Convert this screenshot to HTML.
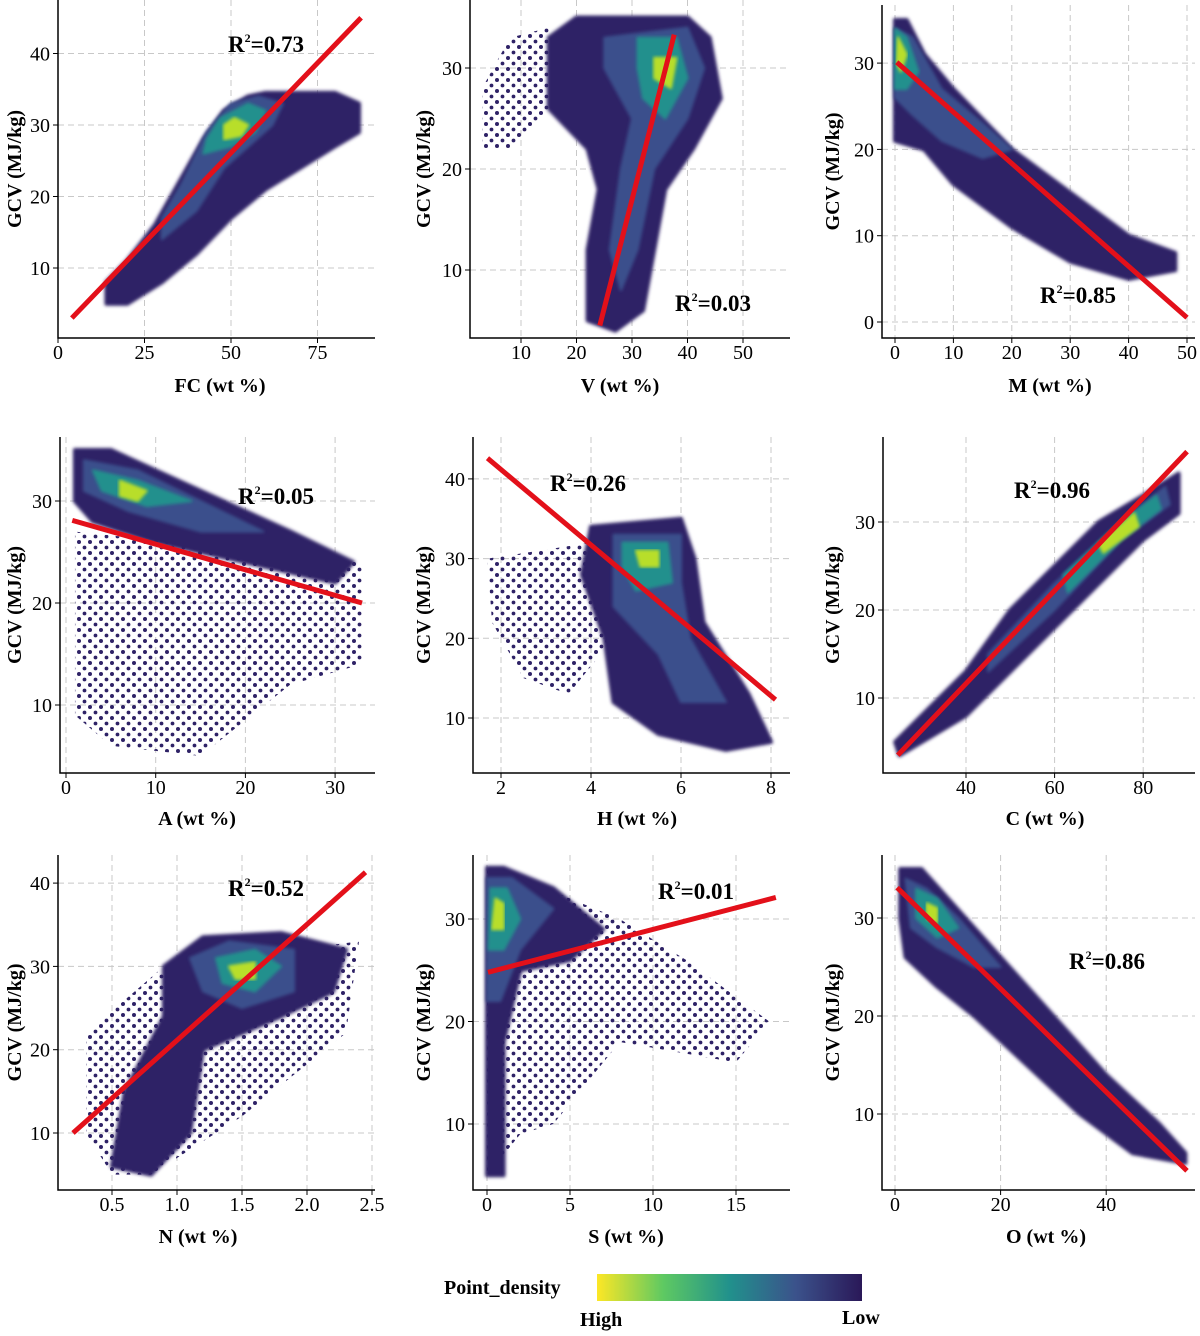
<!DOCTYPE html>
<html><head><meta charset="utf-8"><style>
html,body{margin:0;padding:0;background:#fff;}
svg text{font-family:"Liberation Serif",serif;}
</style></head><body>
<svg id="chart" width="1200" height="1331" viewBox="0 0 1200 1331" xmlns="http://www.w3.org/2000/svg">
<defs>
<pattern id="sparse" width="11" height="11" patternUnits="userSpaceOnUse"><circle cx="2" cy="3" r="2" fill="#2e2266"/><circle cx="7.5" cy="8.5" r="1.9" fill="#2e2266"/></pattern>
<filter id="soft"><feGaussianBlur stdDeviation="1.5"/></filter>
<linearGradient id="cbar" x1="0" x2="1" y1="0" y2="0">
<stop offset="0" stop-color="#fde725"/><stop offset="0.25" stop-color="#5ec962"/><stop offset="0.5" stop-color="#21918c"/><stop offset="0.75" stop-color="#3b528b"/><stop offset="1" stop-color="#2a1858"/></linearGradient>
</defs>
<g id="panels"></g>
<text x="444" y="1294" font-size="20" font-weight="bold">Point_density</text>
<rect x="597" y="1274" width="265" height="27" fill="url(#cbar)"/>
<text x="580" y="1326" font-size="20" font-weight="bold">High</text>
<text x="842" y="1324" font-size="20" font-weight="bold">Low</text>
</svg>
<script>
// ---- data ----
const xLabels = ["FC","V","M","A","H","C","N","S","O"];
const r2Values = ["0.73","0.03","0.85","0.05","0.26","0.96","0.52","0.01","0.86"];
const fitStart = [[4,3],[24.2,4.5],[0.3,30.1],[0.7,28.1],[1.7,42.6],[24.6,3.5],[0.2,10],[0.06,24.8],[0.4,33.1]];
const fitEnd = [[87.6,45],[37.6,33.3],[50,0.5],[33,20],[8.1,12.3],[89.9,38],[2.45,41.3],[17.4,32.1],[55.3,4.2]];
const xTicks = [[0,25,50,75],[10,20,30,40,50],[0,10,20,30,40,50],[0,10,20,30],[2,4,6,8],[40,60,80],[0.5,1,1.5,2,2.5],[0,5,10,15],[0,20,40]];
const yTicks = [[10,20,30,40],[10,20,30],[0,10,20,30],[10,20,30],[10,20,30,40],[10,20,30],[10,20,30,40],[10,20,30],[10,20,30]];
const sparseClouds = [null,
 [[3,28],[8,33],[15,34],[15,26],[8,22],[3,22]],
 null,
 [[1,27],[33,24],[33,14],[25,12],[15,5],[5,6],[1,9],[1,20]],
 [[1.7,30],[4,32],[4.5,20],[3.5,13],[2.5,15],[1.8,22]],
 null,
 [[0.3,22],[0.9,30],[2.4,33],[2.3,22],[1.5,12],[0.8,5],[0.5,5],[0.3,10]],
 [[0,26],[0,35],[2,34],[8,30],[12,26],[17,20],[15,16],[8,18],[4,10],[2,9],[0,5]],
 null];
const cloudL0 = [
 [[14,5],[20,5],[30,8],[40,12],[50,17],[60,21],[70,24],[80,27],[87,29],[87,33],[80,34.5],[70,34.5],[60,34.5],[55,34],[48,32],[42,28],[35,22],[28,16],[20,11],[14,8]],
 [[15,33],[20,35],[40,35],[44,33],[46,27],[41,22],[36,18],[34,12],[32,6],[27,4],[22,5],[22,12],[24,18],[22,22],[15,26]],
 [[0,35],[2,35],[5,31],[10,27],[20,20],[30,15],[40,10],[48,8],[48,6],[40,5],[30,7],[20,11],[10,16],[5,20],[0,21]],
 [[1,35],[5,35],[15,31],[25,27],[32,24],[30,22],[20,24],[10,26],[3,28],[1,30]],
 [[4,34],[6,35],[6.3,30],[6.5,22],[7.5,13],[8,7],[7,6],[5.5,8],[4.5,12],[4.3,20],[3.8,28]],
 [[24,5],[30,8],[40,13],[50,20],[60,25],[70,30],[80,33],[88,35.5],[88,31],[80,28],[70,23],[60,18],[50,13],[40,8],[30,5],[25,3.5]],
 [[0.9,30],[1.2,33.5],[1.8,34],[2.3,32],[2.2,27],[1.8,24],[1.2,20],[1.1,10],[0.8,5],[0.5,6],[0.6,15],[0.9,24]],
 [[0,5],[0,35],[1,35],[4,33],[7,29],[5,26],[2,25],[1,18],[1,5]],
 [[1,35],[5,35],[10,32],[20,26],[30,20],[40,14],[50,9],[55,6],[55,5],[45,6],[35,10],[25,15],[15,20],[8,23],[2,26],[1,30]]];
const cloudL1 = [
 [[30,14],[40,18],[48,24],[55,27],[62,30],[65,33],[58,34],[50,33],[43,29],[36,22],[30,17]],
 [[25,33],[40,34],[43,30],[40,25],[34,20],[31,12],[28,8],[26,12],[28,20],[30,25],[25,30]],
 [[0,34],[3,33],[8,27],[15,23],[20,20],[15,19],[8,21],[3,24],[0,26]],
 [[2,34],[8,33],[15,30],[22,27],[15,27],[7,29],[2,31]],
 [[4.5,33],[6,33],[6,27],[6.2,20],[7,12],[6,12],[5.5,18],[4.5,24]],
 [[45,15],[60,23],[75,30],[85,34],[86,32],[75,28],[60,20],[45,13]],
 [[1.1,31],[1.4,33],[1.9,32],[1.9,27],[1.5,25],[1.2,27]],
 [[0,22],[0,34],[1.5,34],[4,31],[2,27],[0.8,22]],
 [[2,34],[6,33],[12,30],[20,25],[15,25],[8,27],[3,29]]];
const cloudL2 = [
 [[42,26],[50,27],[57,29],[60,32],[55,33],[47,31],[43,28]],
 [[31,33],[38,33],[40,29],[36,25],[32,27],[31,30]],
 [[0,34],[2,33],[4,29],[2,27],[0,27]],
 [[3,33],[8,32],[14,30],[9,29.5],[4,31]],
 [[4.7,32],[5.7,32],[5.8,27],[5,26],[4.7,29]],
 [[62,24],[75,30],[83,33],[84,31.5],[75,28],[63,22]],
 [[1.3,31],[1.6,32],[1.8,30],[1.6,27],[1.35,28]],
 [[0.1,27],[0.2,33],[1.2,33],[2,30],[1,27]],
 [[4,33],[8,32],[12,29],[8,28],[4,30]]];
const cloudL3 = [
 [[48,28],[53,28.5],[55,30],[51,31],[48,30]],
 [[34,31],[38,31],[37,28],[34,29]],
 [[0.5,33],[2,31],[1,29],[0.3,30]],
 [[6,32],[9,31],[8,30],[6,30.5]],
 [[5,31],[5.5,31],[5.5,29],[5.1,29]],
 [[70,27.5],[78,31],[79,29.5],[71,26.5]],
 [[1.4,30],[1.6,30.5],[1.6,28.5],[1.45,28.5]],
 [[0.3,29],[0.5,32],[1,31.5],[1,29]],
 [[6,31.5],[8,31],[8,29.5],[6,30]]];
const r2Pos = [[266,52],[713,311],[1078,303],[276,504],[588,491],[1052,498],[266,896],[696,899],[1107,969]];

// ---- layout (pixel scales) ----
const P = [
 {l:58,r:375,t:0,b:338,xv:0,xp:58,xk:3.46,yv:10,yp:268,yk:7.15,ty:14,tx:220,txy:392},
 {l:470,r:790,t:0,b:338,xv:10,xp:521,xk:5.55,yv:10,yp:270,yk:10.1,ty:423,tx:620,txy:392},
 {l:882,r:1195,t:5,b:338,xv:0,xp:895,xk:5.84,yv:0,yp:322,yk:8.63,ty:832,tx:1050,txy:392},
 {l:60,r:375,t:437,b:773,xv:0,xp:66,xk:8.97,yv:10,yp:705,yk:10.2,ty:14,tx:197,txy:825},
 {l:473,r:790,t:437,b:773,xv:2,xp:501,xk:45,yv:10,yp:718,yk:7.97,ty:423,tx:637,txy:825},
 {l:883,r:1195,t:437,b:773,xv:40,xp:966,xk:4.43,yv:10,yp:698,yk:8.8,ty:832,tx:1045,txy:825},
 {l:58,r:375,t:855,b:1190,xv:0.5,xp:112,xk:130,yv:10,yp:1133,yk:8.33,ty:14,tx:198,txy:1243},
 {l:473,r:790,t:855,b:1190,xv:0,xp:487,xk:16.6,yv:10,yp:1124,yk:10.25,ty:423,tx:626,txy:1243},
 {l:882,r:1195,t:855,b:1190,xv:0,xp:895,xk:5.28,yv:10,yp:1114,yk:9.8,ty:832,tx:1046,txy:1243}];
const NS="http://www.w3.org/2000/svg";
function mk(tag,attrs,parent){const e=document.createElementNS(NS,tag);for(const k in attrs)e.setAttribute(k,attrs[k]);parent.appendChild(e);return e;}
const root=document.getElementById('panels');
P.forEach((p,i)=>{
 const sx=v=>p.xp+(v-p.xv)*p.xk, sy=v=>p.yp-(v-p.yv)*p.yk;
 const g=mk('g',{},root);
 
 
 const cp=mk('clipPath',{id:'cp'+i},g);mk('rect',{x:p.l,y:p.t,width:p.r-p.l,height:p.b-p.t},cp);
 xTicks[i].forEach(v=>{const l=mk('line',{x1:sx(v),x2:sx(v),y1:p.t,y2:p.b,stroke:'#c8c8c8','stroke-dasharray':'6,4'},g);
  });
 yTicks[i].forEach(v=>{const l=mk('line',{x1:p.l,x2:p.r,y1:sy(v),y2:sy(v),stroke:'#c8c8c8','stroke-dasharray':'6,4'},g);
  });
 const cg=mk('g',{'clip-path':'url(#cp'+i+')'},g);
 const pts=a=>a.map(q=>sx(q[0])+','+sy(q[1])).join(' ');
 if(sparseClouds[i]){const s=mk('polygon',{points:pts(sparseClouds[i]),fill:'url(#sparse)'},cg);
  }
 [[cloudL0,'#2e2266',0],[cloudL1,'#3b4f8c',1],[cloudL2,'#21908d',2],[cloudL3,'#b8de29',3]].forEach(([arr,c,lv])=>{
  const s=mk('polygon',{points:pts(arr[i]),fill:c,filter:'url(#soft)',stroke:c,'stroke-width':lv==0?4:2,'stroke-linejoin':'round'},cg);
  });
 const fl=mk('line',{x1:sx(fitStart[i][0]),y1:sy(fitStart[i][1]),x2:sx(fitEnd[i][0]),y2:sy(fitEnd[i][1]),stroke:'#e3101a','stroke-width':5},cg);
 
 const ax=mk('path',{d:`M${p.l},${p.t}V${p.b}H${p.r}`,stroke:'#000','stroke-width':1.5,fill:'none'},g);
 
 xTicks[i].forEach(v=>{mk('line',{x1:sx(v),x2:sx(v),y1:p.b,y2:p.b+5,stroke:'#000'},g);
  const t=mk('text',{x:sx(v),y:p.b+21,'font-size':20,'text-anchor':'middle'},g);
  t.textContent=(i==6?v.toFixed(1):String(v));
  });
 yTicks[i].forEach(v=>{mk('line',{x1:p.l-5,x2:p.l,y1:sy(v),y2:sy(v),stroke:'#000'},g);
  const t=mk('text',{x:p.l-8,y:sy(v)+7,'font-size':20,'text-anchor':'end'},g);
  t.textContent=String(v);
  });
 const xt=mk('text',{x:p.tx,y:p.txy,'font-size':20,'font-weight':'bold','text-anchor':'middle'},g);
 xt.textContent=xLabels[i]+' (wt %)';
 
 const cy=(p.t+p.b)/2;
 const yt=mk('text',{x:p.ty,y:cy,'font-size':20,'font-weight':'bold','text-anchor':'middle',transform:`rotate(-90 ${p.ty} ${cy})`,dy:7},g);
 yt.textContent='GCV (MJ/kg)';
 
 const rt=mk('text',{x:r2Pos[i][0],y:r2Pos[i][1],'font-size':23,'font-weight':'bold','text-anchor':'middle'},g);
 rt.innerHTML='R<tspan font-size="12" dy="-10">2</tspan><tspan dy="10">='+r2Values[i]+'</tspan>';
 
});
</script>
</body></html>
